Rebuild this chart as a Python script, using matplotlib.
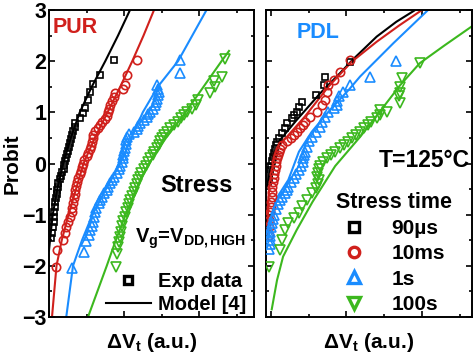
import matplotlib
matplotlib.use("Agg")
import matplotlib.pyplot as plt
from matplotlib.lines import Line2D
from matplotlib.ticker import MultipleLocator

plt.rcParams['font.family'] = ['Liberation Sans', 'DejaVu Sans']
plt.rcParams['font.weight'] = 'bold'
plt.rcParams['mathtext.fontset'] = 'custom'
plt.rcParams['mathtext.rm'] = 'Liberation Sans:bold'
plt.rcParams['mathtext.bf'] = 'Liberation Sans:bold'
plt.rcParams['mathtext.it'] = 'Liberation Sans:bold'

# ---------------- data: PUR (left panel) ----------------
pur_90us_p = [2.02, 1.73, 1.55, 1.39, 1.24, 1.09, 0.98, 0.88, 0.80, 0.72,
              0.64, 0.56, 0.48, 0.40, 0.33, 0.25, 0.18, 0.11, 0.04, -0.03,
              -0.10, -0.17, -0.24, -0.31, -0.38, -0.45, -0.52, -0.60, -0.68, -0.76,
              -0.85, -0.95, -1.05, -1.15, -1.25, -1.36, -1.45]
pur_90us_dv = [0.86, 0.68, 0.58, 0.55, 0.52, 0.48, 0.45, 0.41, 0.35, 0.34,
               0.32, 0.30, 0.29, 0.28, 0.26, 0.25, 0.24, 0.22, 0.21, 0.20,
               0.20, 0.17, 0.16, 0.14, 0.12, 0.12, 0.11, 0.10, 0.09, 0.08,
               0.08, 0.07, 0.06, 0.06, 0.05, 0.04, 0.03]

pur_10ms_p = [2.02, 1.73, 1.53, 1.45, 1.38, 1.30, 1.22, 1.14, 1.06, 1.00,
              0.93, 0.87, 0.81, 0.75, 0.69, 0.63, 0.56, 0.49, 0.42, 0.35,
              0.28, 0.21, 0.14, 0.07, 0.00, -0.07, -0.14, -0.21, -0.28, -0.36,
              -0.44, -0.52, -0.60, -0.68, -0.77, -0.86, -0.95, -1.05, -1.15, -1.25,
              -1.35, -1.49, -1.70, -2.02]
pur_10ms_dv = [1.17, 1.04, 1.01, 0.98, 0.88, 0.86, 0.84, 0.81, 0.80, 0.79,
               0.77, 0.75, 0.70, 0.68, 0.65, 0.61, 0.59, 0.58, 0.57, 0.56,
               0.55, 0.52, 0.50, 0.47, 0.45, 0.44, 0.42, 0.41, 0.39, 0.37,
               0.36, 0.35, 0.35, 0.33, 0.32, 0.31, 0.30, 0.28, 0.25, 0.22,
               0.21, 0.19, 0.10, 0.09]

pur_1s_p = [2.02, 1.76, 1.53, 1.46, 1.40, 1.33, 1.27, 1.20, 1.14, 1.07,
            1.01, 0.96, 0.91, 0.85, 0.79, 0.73, 0.67, 0.62, 0.57, 0.51,
            0.45, 0.38, 0.31, 0.24, 0.17, 0.10, 0.03, -0.04, -0.11, -0.19,
            -0.26, -0.32, -0.39, -0.45, -0.51, -0.58, -0.65, -0.71, -0.78, -0.86,
            -0.95, -1.05, -1.14, -1.22, -1.30, -1.40, -1.52, -1.72, -2.05]
pur_1s_dv = [1.75, 1.75, 1.44, 1.45, 1.46, 1.45, 1.44, 1.42, 1.41, 1.38,
             1.35, 1.32, 1.30, 1.26, 1.21, 1.19, 1.17, 1.13, 1.06, 1.04,
             1.03, 1.02, 1.01, 1.00, 0.99, 0.98, 0.97, 0.95, 0.93, 0.90,
             0.87, 0.84, 0.81, 0.79, 0.77, 0.73, 0.70, 0.68, 0.66, 0.63,
             0.61, 0.60, 0.59, 0.57, 0.55, 0.53, 0.49, 0.47, 0.30]

pur_100s_p = [2.04, 1.70, 1.62, 1.50, 1.37, 1.24, 1.14, 1.07, 1.01, 0.94,
              0.88, 0.82, 0.75, 0.69, 0.62, 0.55, 0.49, 0.43, 0.36, 0.30,
              0.23, 0.17, 0.10, 0.03, -0.04, -0.11, -0.18, -0.26, -0.33, -0.40,
              -0.47, -0.55, -0.63, -0.71, -0.79, -0.87, -0.95, -1.04, -1.13, -1.23,
              -1.33, -1.43, -1.53, -1.63, -1.77, -2.03]
pur_100s_dv = [2.35, 2.31, 2.20, 2.21, 2.14, 1.99, 1.96, 1.90, 1.84, 1.80,
               1.76, 1.72, 1.66, 1.61, 1.57, 1.53, 1.50, 1.48, 1.46, 1.44,
               1.40, 1.38, 1.35, 1.32, 1.29, 1.26, 1.23, 1.21, 1.19, 1.17,
               1.15, 1.13, 1.10, 1.08, 1.06, 1.05, 1.03, 1.01, 0.99, 0.97,
               0.96, 0.95, 0.93, 0.92, 0.91, 0.89]

# model curves PUR
pur_fit_90us_dv = [0.00, 0.02, 0.05, 0.11, 0.19, 0.29, 0.41, 0.57, 0.75, 0.92, 1.08]
pur_fit_90us_p = [-1.7, -1.4, -1.0, -0.5, 0.0, 0.5, 1.0, 1.5, 2.0, 2.5, 3.0]
pur_fit_10ms_dv = [0.04, 0.10, 0.17, 0.26, 0.36, 0.46, 0.61, 0.78, 0.95, 1.11, 1.26, 1.40]
pur_fit_10ms_p = [-3.0, -2.0, -1.5, -1.0, -0.5, 0.0, 0.5, 1.0, 1.5, 2.0, 2.5, 3.0]
pur_fit_1s_dv = [0.23, 0.32, 0.44, 0.58, 0.76, 0.95, 1.10, 1.25, 1.45, 1.72, 1.91, 2.10]
pur_fit_1s_p = [-3.0, -2.0, -1.5, -1.0, -0.5, 0.0, 0.5, 1.0, 1.5, 2.0, 2.5, 3.0]
pur_fit_100s_dv = [0.52, 0.77, 0.89, 1.02, 1.16, 1.33, 1.56, 1.82, 2.06, 2.30, 2.40]
pur_fit_100s_p = [-3.0, -2.0, -1.5, -1.0, -0.5, 0.0, 0.5, 1.0, 1.5, 2.0, 2.2]

# ---------------- data: PDL (right panel) ----------------
pdl_90us_p = [1.99, 1.70, 1.53, 1.34, 1.21, 1.11, 1.01, 0.94, 0.88, 0.79,
              0.69, 0.59, 0.49, 0.42, 0.36, 0.28, 0.20, 0.12, 0.04, -0.04,
              -0.12, -0.20, -0.28, -0.36]
pdl_90us_dv = [1.05, 0.72, 0.70, 0.59, 0.41, 0.37, 0.34, 0.31, 0.28, 0.21,
               0.19, 0.15, 0.10, 0.08, 0.06, 0.05, 0.04, 0.03, 0.01, 0.00,
               -0.01, -0.02, -0.03, -0.04]

pdl_10ms_p = [2.02, 1.79, 1.63, 1.53, 1.40, 1.24, 1.14, 1.01, 0.91, 0.82,
              0.75, 0.69, 0.62, 0.56, 0.49, 0.43, 0.36, 0.29, 0.23, 0.16,
              0.10, 0.03, -0.04, -0.12, -0.20, -0.28, -0.36, -0.45, -0.55, -0.65,
              -0.75, -0.85, -0.95, -1.10, -1.25, -1.40]
pdl_10ms_dv = [1.05, 0.92, 0.83, 0.76, 0.74, 0.72, 0.68, 0.61, 0.52, 0.45,
               0.42, 0.39, 0.34, 0.30, 0.26, 0.21, 0.15, 0.12, 0.10, 0.09,
               0.08, 0.07, 0.06, 0.05, 0.04, 0.04, 0.03, 0.02, 0.02, 0.01,
               0.00, 0.00, -0.01, -0.02, -0.02, -0.03]

pdl_1s_p = [2.00, 1.70, 1.53, 1.40, 1.31, 1.22, 1.14, 1.08, 1.01, 0.91,
            0.82, 0.72, 0.62, 0.52, 0.43, 0.33, 0.23, 0.17, 0.10, 0.03,
            -0.05, -0.13, -0.21, -0.29, -0.37, -0.45, -0.52, -0.58, -0.65, -0.71,
            -0.80, -0.88, -1.00, -1.09, -1.17, -1.25, -1.33, -1.41, -1.49, -1.58,
            -1.68]
pdl_1s_dv = [1.66, 1.31, 1.05, 0.96, 0.90, 0.88, 0.87, 0.83, 0.76, 0.72,
             0.68, 0.65, 0.59, 0.54, 0.50, 0.48, 0.45, 0.44, 0.43, 0.42,
             0.40, 0.37, 0.33, 0.30, 0.27, 0.23, 0.21, 0.19, 0.15, 0.12,
             0.09, 0.06, 0.04, 0.03, 0.01, 0.00, -0.01, -0.01, -0.01, -0.01,
             -0.02]

pdl_100s_p = [1.96, 1.67, 1.50, 1.37, 1.31, 1.18, 1.05, 1.01, 0.95, 0.88,
              0.82, 0.75, 0.69, 0.62, 0.56, 0.49, 0.42, 0.36, 0.30, 0.23,
              0.17, 0.10, 0.03, -0.04, -0.11, -0.18, -0.26, -0.33, -0.40, -0.48,
              -0.58, -0.71, -0.84, -0.97, -1.07, -1.17, -1.30, -1.49, -1.69, -2.02]
pdl_100s_dv = [1.97, 1.73, 1.71, 1.71, 1.69, 1.71, 1.45, 1.53, 1.45, 1.40,
               1.33, 1.28, 1.23, 1.18, 1.12, 1.07, 1.02, 0.97, 0.91, 0.85,
               0.80, 0.74, 0.69, 0.65, 0.63, 0.62, 0.61, 0.63, 0.62, 0.60,
               0.54, 0.48, 0.41, 0.37, 0.30, 0.23, 0.18, 0.15, 0.12, -0.03]

# model curves PDL
pdl_fit_90us_dv = [-0.05, -0.01, 0.12, 0.34, 0.65, 0.91, 1.09, 1.40, 1.66, 1.91]
pdl_fit_90us_p = [-0.45, -0.13, 0.46, 0.85, 1.37, 1.76, 2.04, 2.48, 2.77, 3.0]
pdl_fit_10ms_dv = [-0.05, -0.03, 0.03, 0.15, 0.45, 0.76, 1.07, 1.40, 1.70, 2.00]
pdl_fit_10ms_p = [-1.5, -0.6, 0.2, 0.42, 0.92, 1.50, 1.99, 2.38, 2.70, 3.0]
pdl_fit_1s_dv = [-0.04, 0.06, 0.23, 0.37, 0.54, 0.76, 1.03, 1.18, 1.62, 2.08]
pdl_fit_1s_p = [-1.5, -0.71, -0.32, 0.23, 0.62, 1.01, 1.44, 1.70, 2.35, 3.0]
pdl_fit_100s_dv = [0.01, 0.08, 0.16, 0.34, 0.55, 0.85, 1.18, 1.44, 1.71, 1.97, 2.30, 2.66]
pdl_fit_100s_p = [-2.85, -2.28, -1.82, -1.30, -0.75, -0.05, 0.52, 1.01, 1.53, 1.96, 2.31, 2.68]

stress_labels = ["90\u00b5s", "10ms", "1s", "100s"]
colors = ["#000000", "#d0201c", "#1a8cff", "#3cb81e"]
markers = ["s", "o", "^", "v"]
msizes = [5.0, 6.0, 6.5, 6.5]

yticks = [-3, -2, -1, 0, 1, 2, 3]

# ---------------- figure ----------------
fig = plt.figure(figsize=(4.74, 3.56), dpi=100)
axL = fig.add_axes([49/474, 39/356, 205/474, 307/356])
axR = fig.add_axes([266/474, 39/356, 206/474, 307/356])

pur_data = [(pur_90us_dv, pur_90us_p), (pur_10ms_dv, pur_10ms_p),
            (pur_1s_dv, pur_1s_p), (pur_100s_dv, pur_100s_p)]
pur_fits = [(pur_fit_90us_dv, pur_fit_90us_p), (pur_fit_10ms_dv, pur_fit_10ms_p),
            (pur_fit_1s_dv, pur_fit_1s_p), (pur_fit_100s_dv, pur_fit_100s_p)]
pdl_data = [(pdl_90us_dv, pdl_90us_p), (pdl_10ms_dv, pdl_10ms_p),
            (pdl_1s_dv, pdl_1s_p), (pdl_100s_dv, pdl_100s_p)]
pdl_fits = [(pdl_fit_90us_dv, pdl_fit_90us_p), (pdl_fit_10ms_dv, pdl_fit_10ms_p),
            (pdl_fit_1s_dv, pdl_fit_1s_p), (pdl_fit_100s_dv, pdl_fit_100s_p)]

for ax, data, fits in [(axL, pur_data, pur_fits), (axR, pdl_data, pdl_fits)]:
    for (dv, p), (fdv, fp), c, m, ms in zip(data, fits, colors, markers, msizes):
        ax.plot(fdv, fp, color=c, lw=1.5, zorder=2)
        ax.plot(dv, p, ls='none', marker=m, ms=ms, mfc='none', mec=c, mew=1.2, zorder=3)

for ax in (axL, axR):
    ax.set_ylim(-3, 3)
    ax.set_yticks(yticks)
    ax.yaxis.set_minor_locator(MultipleLocator(0.5))
    ax.xaxis.set_major_locator(MultipleLocator(1.0))
    ax.xaxis.set_minor_locator(MultipleLocator(0.5))
    ax.tick_params(which='both', direction='in', top=True, right=True, labelbottom=False,
                   width=1.2)
    ax.tick_params(which='major', length=4.5)
    ax.tick_params(which='minor', length=2.5)
    for s in ax.spines.values():
        s.set_linewidth(1.4)
    ax.set_xlabel("\u0394V$_{\\mathbf{t}}$ (a.u.)", fontsize=15, fontweight='bold', labelpad=10)

axL.set_xlim(0, 2.733)
axR.set_xlim(-0.066, 2.662)
axL.tick_params(axis='y', labelsize=15.5, pad=2)
axR.tick_params(axis='y', labelleft=False)
axL.set_ylabel("Probit", fontsize=15, fontweight='bold', labelpad=0)

# texts (baseline anchored)
axL.text(0.02, 0.925, "PUR", transform=axL.transAxes, color=colors[1], fontsize=15.5,
         fontweight='bold', ha='left', va='baseline')
axL.text(0.717, 0.407, "Stress", transform=axL.transAxes, fontsize=17,
         fontweight='bold', ha='center', va='baseline')
axL.text(0.42, 0.241, "V$_{\\mathbf{g}}$=V$_{\\mathbf{DD,HIGH}}$", transform=axL.transAxes,
         fontsize=14.5, fontweight='bold', ha='left', va='baseline')
axR.text(0.15, 0.909, "PDL", transform=axR.transAxes, color=colors[2], fontsize=15.5,
         fontweight='bold', ha='left', va='baseline')
axR.text(0.99, 0.49, "T=125\u00b0C", transform=axR.transAxes, fontsize=16.5,
         fontweight='bold', ha='right', va='baseline')

# legends
hL = [Line2D([], [], ls='none', marker='s', ms=6, mfc='none', mec='k', mew=2.4),
      Line2D([], [], color='k', lw=1.5)]
legL = axL.legend(hL, ["Exp data", "Model [4]"], loc='lower right',
                  bbox_to_anchor=(0.975, 0.0), frameon=False,
                  fontsize=14.5, handlelength=2.2, handletextpad=0.35, labelspacing=0.2,
                  borderaxespad=0.0, borderpad=0.15)

hR = [Line2D([], [], ls='none', marker=m, ms=ms + 1.5, mfc='none', mec=c, mew=2.4)
      for m, ms, c in zip(markers, msizes, colors)]
legR = axR.legend(hR, stress_labels, loc='lower right', bbox_to_anchor=(0.92, 0.0),
                  frameon=False, fontsize=15,
                  title="Stress time", title_fontproperties={'weight': 'bold', 'size': 15.5},
                  handlelength=1.0, handletextpad=1.3, labelspacing=0.3,
                  borderaxespad=0.0, borderpad=0.15)

fig.savefig("out.png", dpi=100)
